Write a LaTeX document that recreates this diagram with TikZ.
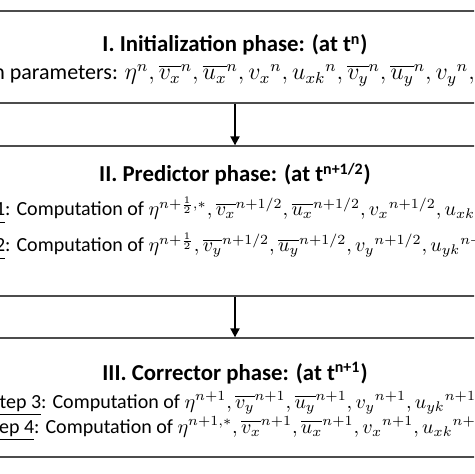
\documentclass[tikz,border=0pt]{standalone}
\usepackage{fontspec}
\setmainfont{Carlito}
\usetikzlibrary{positioning,arrows.meta}

\begin{document}
\begin{tikzpicture}[x=0.5pt,y=-0.5pt,
		phase/.style={draw=black!70, line width=0.65pt, minimum width=300pt, inner sep=0pt},
		title/.style={font=\bfseries\fontsize{11.4}{13}\selectfont, anchor=base, inner sep=0pt},
		txt/.style={font=\fontsize{10}{12}\selectfont, anchor=base west, inner sep=0pt},
		flow/.style={-{Triangle[length=4.5pt,width=4.5pt]}, line width=1pt}]
\path[use as bounding box, clip] (0,0) rectangle (474,474);

% phase boxes
\node[phase, minimum height=46pt] (init) at (235,57) {};
\node[phase, minimum height=75pt] (pred) at (235,221) {};
\node[phase, minimum height=59.5pt] (corr) at (235,397.5) {};

% I. initialization
\node[title] (initT) at (235,52) {I. Initialization phase: (at t\textsuperscript{n})};
\node[txt, font=\fontsize{11}{13}\selectfont] (initP) at (-57,80) {Known parameters: {\fontsize{11.9}{13}\selectfont$\eta^n, {\overline{v_x}}^n, {\overline{u_x}}^n, {v_x}^n, {u_{xk}}^n, {\overline{v_y}}^n, {\overline{u_y}}^n, {v_y}^n, {u_{yk}}^n$}};

% II. predictor
\node[title] (predT) at (235,182) {II. Predictor phase: (at t\textsuperscript{n+1/2})};
\node[txt] (step1) at (-46,216) {\underline{Step 1}: Computation of {\fontsize{9.8}{12}\selectfont$\eta^{n+\frac{1}{2},*}, {\overline{v_x}}^{n+1/2}, {\overline{u_x}}^{n+1/2}, {v_x}^{n+1/2}, {u_{xk}}^{n+1/2}$}};
\node[txt] (step2) at (-46,252) {\underline{Step 2}: Computation of {\fontsize{9.8}{12}\selectfont$\eta^{n+\frac{1}{2}}, {\overline{v_y}}^{n+1/2}, {\overline{u_y}}^{n+1/2}, {v_y}^{n+1/2}, {u_{yk}}^{n+1/2}$}};

% III. corrector
\node[title] (corrT) at (235,380) {III. Corrector phase: (at t\textsuperscript{n+1})};
\node[txt] (step3) at (-10,408) {\underline{Step 3}: Computation of {\fontsize{9.8}{12}\selectfont$\eta^{n+1}, {\overline{v_y}}^{n+1}, {\overline{u_y}}^{n+1}, {v_y}^{n+1}, {u_{yk}}^{n+1}$}};
\node[txt] (step4) at (-17,433) {\underline{Step 4}: Computation of {\fontsize{9.8}{12}\selectfont$\eta^{n+1,*}, {\overline{v_x}}^{n+1}, {\overline{u_x}}^{n+1}, {v_x}^{n+1}, {u_{xk}}^{n+1}$}};

\draw[flow] (init) -- (pred);
\draw[flow] (pred) -- (corr);
\end{tikzpicture}
\end{document}
